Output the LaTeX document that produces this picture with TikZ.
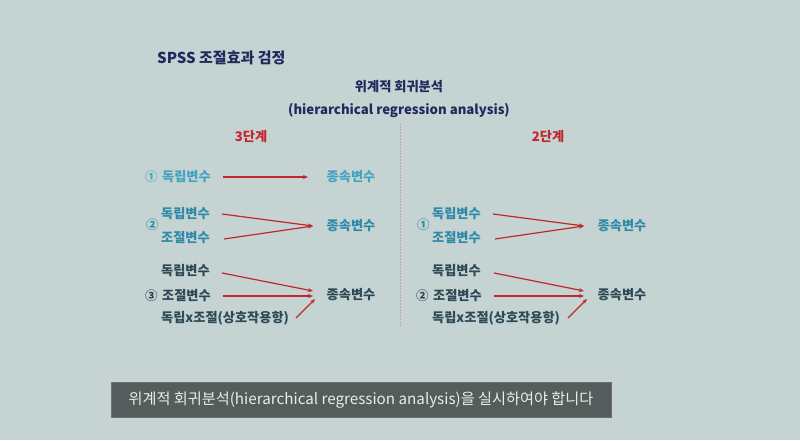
\documentclass[tikz,border=0pt]{standalone}
\usepackage{fontspec}
\setmainfont{Noto Sans CJK KR}
\usetikzlibrary{arrows.meta}
\definecolor{bg}{HTML}{C5D3D3}
\definecolor{navy}{HTML}{1D2A5C}
\definecolor{redc}{HTML}{C1272D}
\definecolor{tealA}{HTML}{45A3C2}
\definecolor{tealB}{HTML}{2F8AA8}
\definecolor{slate}{HTML}{2E4956}
\definecolor{barc}{HTML}{555C5C}
\definecolor{dotc}{HTML}{C4A5AA}
\begin{document}
\begin{tikzpicture}[x=1pt,y=-1pt,
  lbl/.style={inner sep=0pt,font=\fontsize{13.2}{15}\selectfont\bfseries},
  arr/.style={draw=redc,line width=1.2pt,-{Stealth[length=5pt,width=4pt]}},
  num/.style={inner sep=0pt,font=\fontsize{12.5}{15}\selectfont\bfseries}]
\fill[bg] (0,0) rectangle (800,440);
\useasboundingbox (0,0) rectangle (800,440);
\node[lbl,anchor=west,navy,font=\fontsize{15}{17}\selectfont\bfseries] (title) at (157,58) {SPSS 조절효과 검정};
\node[lbl,navy] (h1) at (399,87) {위계적 회귀분석};
\node[lbl,navy] (h2) at (399,111) {(hierarchical regression analysis)};
\node[lbl,redc] (s3) at (251,137) {3단계};
\node[lbl,redc] (s2) at (548,137) {2단계};
\draw[dotc,line width=1pt,dash pattern=on 1.5pt off 1.5pt] (400,123) coordinate (d1) -- (400,326) coordinate (d2);
% left row 1
\node[num,tealA,anchor=west] (n1) at (145,177) {①};
\node[lbl,tealA,anchor=west] (a1) at (162,177) {독립변수};
\node[lbl,tealA] (y1) at (351,177) {종속변수};
\coordinate (a1e) at (223,177);
\coordinate (y1e) at (308,177);
\draw[arr] (a1e) -- (y1e);
% left row 2
\node[num,tealB,anchor=west] (n2) at (146,225) {②};
\node[lbl,tealB,anchor=west] (b1) at (161,214) {독립변수};
\node[lbl,tealB,anchor=west] (b2) at (161,238) {조절변수};
\node[lbl,tealB] (y2) at (351,226) {종속변수};
\coordinate (t2) at (313,226);
\draw[arr] (222,214) -- (t2);
\draw[arr] (224,239) -- (t2);
% left row 3
\node[lbl,slate,anchor=west] (c1) at (161,271) {독립변수};
\node[num,slate,anchor=west] (n3) at (145,296) {③};
\node[lbl,slate,anchor=west] (c2) at (162,296) {조절변수};
\node[lbl,slate,anchor=west] (c3) at (161,318) {독립x조절(상호작용항)};
\node[lbl,slate] (y3) at (351,295) {종속변수};
\draw[arr] (222,273) -- (313,291);
\draw[arr] (223,296) -- (313,296);
\draw[arr] (296,318) -- (315,299);
% right row 1
\node[num,tealB,anchor=west] (m1) at (417,225) {①};
\node[lbl,tealB,anchor=west] (e1) at (432,214) {독립변수};
\node[lbl,tealB,anchor=west] (e2) at (432,238) {조절변수};
\node[lbl,tealB] (z1) at (622,226) {종속변수};
\coordinate (t4) at (584,226);
\draw[arr] (493,214) -- (t4);
\draw[arr] (495,239) -- (t4);
% right row 2
\node[lbl,slate,anchor=west] (f1) at (432,271) {독립변수};
\node[num,slate,anchor=west] (m2) at (416,296) {②};
\node[lbl,slate,anchor=west] (f2) at (433,296) {조절변수};
\node[lbl,slate,anchor=west] (f3) at (432,318) {독립x조절(상호작용항)};
\node[lbl,slate] (z2) at (622,295) {종속변수};
\draw[arr] (494,273) -- (584,291);
\draw[arr] (494,296) -- (584,296);
\draw[arr] (568,318) -- (587,299);
% bottom bar
\draw[fill=barc,draw=gray!60!barc,line width=0.6pt] (111,382) rectangle (611,417);
\node[inner sep=0pt,text=white!92!black,font=\fontsize{15.2}{17}\selectfont] (bar) at (361,400) {위계적 회귀분석(hierarchical regression analysis)을 실시하여야 합니다};
\end{tikzpicture}
\end{document}
